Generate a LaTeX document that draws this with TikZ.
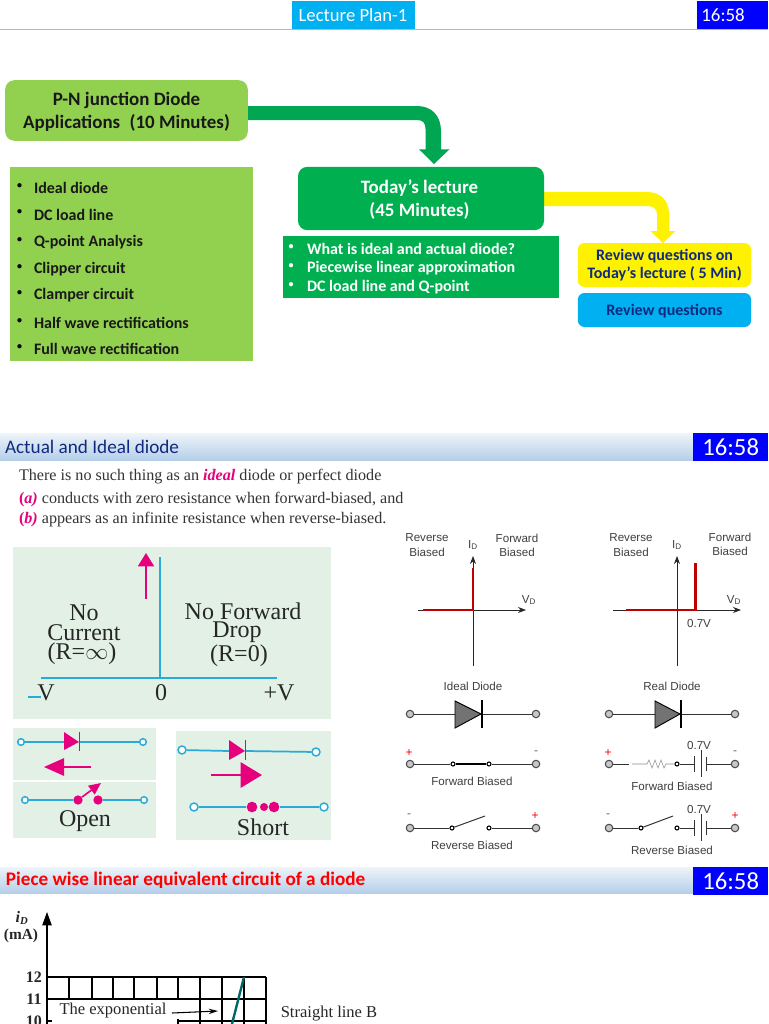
\documentclass[tikz,border=0pt]{standalone}
\usepackage{fontspec}
\setmainfont{Carlito}
\newfontfamily\serifx{Liberation Serif}
\newfontfamily\sansx{Liberation Sans}
\usetikzlibrary{arrows.meta}
\definecolor{lgreen}{HTML}{92D050}
\definecolor{dgreen}{HTML}{00B050}
\definecolor{arrgreen}{HTML}{00A651}
\definecolor{cyanb}{HTML}{00B0F0}
\definecolor{navyt}{HTML}{0F2A80}
\definecolor{pale}{HTML}{E2F0E6}
\definecolor{lineb}{HTML}{29ABD8}
\definecolor{mag}{HTML}{E6007E}
\definecolor{dred}{HTML}{C00000}
\definecolor{hdtop}{HTML}{EEF4FA}
\definecolor{hdbot}{HTML}{B5CFE9}
\definecolor{rule}{HTML}{9DBBE3}
\newcommand{\fs}[1]{\fontsize{#1}{#1}\selectfont}
\tikzset{
 x=0.75pt,y=-0.75pt,
 lab/.style={inner sep=0pt,outer sep=0pt},
 txt/.style={lab,text=#1,font=\bfseries\fs{12}},
 txt/.default=black,
 bulb/.style={lab,text=#1,font=\bfseries\fs{7.5}},
 caplab/.style={lab,font=\sansx\fs{8.7},text=black!75},
 bar/.style={lab,anchor=west},
 clock/.style={lab,fill=blue,text=white,font=\fs{18.5},minimum width=56pt,minimum height=21pt,anchor=north east},
 wire/.style={draw=black!80,line width=0.75pt},
 blw/.style={draw=lineb,line width=1.3pt},
 term/.style={circle,draw=black!70,fill=black!22,line width=0.8pt,minimum size=5.6pt,inner sep=0pt},
 sm/.style={circle,draw=black,fill=white,line width=0.8pt,minimum size=3pt,inner sep=0pt},
 bterm/.style={circle,draw=lineb,fill=white,line width=1.1pt,minimum size=5pt,inner sep=0pt},
 mdot/.style={circle,fill=mag,minimum size=#1,inner sep=0pt},
 marr/.style={draw=mag,line width=1.3pt,-{Triangle[length=10pt,width=12pt,fill=mag]}},
 redl/.style={draw=dred,line width=2.2pt},
 axisl/.style={draw=black!85,line width=0.6pt,-{Stealth[length=6pt,width=4.5pt]}},
 grid/.style={draw=black,line width=0.8pt},
 sign/.style={lab,font=\sansx\fs{9},text=red},
 gsign/.style={lab,font=\sansx\fs{9},text=black!60},
 ser/.style={lab,font=\serifx\fs{18},text=black!85},
 gtext/.style={lab,font=\serifx\fs{12.4},text=black!85},
 gnum/.style={lab,font=\serifx\bfseries\fs{12},text=black!85},
}
\newcommand{\hdbar}[2]{\fill[top color=hdtop,bottom color=hdbot] (0,#1) rectangle (768,#2);}
\begin{document}
\begin{tikzpicture}
\useasboundingbox (0,0) rectangle (768,1024);
\fill[white] (0,0) rectangle (768,1024);
%% --- Header
\draw[rule,line width=0.7pt] (0,29.5) -- (768,29.5);
\fill[cyanb] (292,1) rectangle (415,29);
\node[lab,text=white,font=\fs{14}] (plan) at (353,15.5) {Lecture Plan-1};
\node[clock,minimum width=53pt,font=\fs{14.2},text width=47pt,align=left] (clock1) at (768,1) {16:58};

%% --- Big arrows
\fill[arrgreen] (248,106) -- (417,106) .. controls (432,106) and (441,116) .. (441,131) -- (441,149.3)
 -- (449.5,149.3) -- (434,164) -- (419,149.3) -- (425.5,149.3) -- (425.5,129) .. controls (425.5,123) and (423,120) .. (417,120) -- (248,120) -- cycle;
\fill[yellow] (544,192) -- (647,192) .. controls (661,192) and (669,201) .. (669,214) -- (669,231)
 -- (675.5,231) -- (663,243) -- (650.5,231) -- (657,231) -- (657,214) .. controls (657,209) and (653,206) .. (647,206) -- (544,206) -- cycle;

%% --- P-N box
\node[lab,fill=lgreen,rounded corners=7pt,minimum width=182pt,minimum height=45.5pt] (pn) at (126.5,110.5) {};
\node[lab,align=center,font=\bfseries\fs{14.2},text=black!90] (pnt) at (126.5,111.5) {P-N junction Diode\\[3pt]Applications\enspace(10 Minutes)};

%% --- Topic list
\fill[lgreen] (10,167) rectangle (253,361);
\foreach \n/\y/\t in {a/188/Ideal diode,b/214.5/DC load line,c/242/Q-point Analysis,d/269/Clipper circuit,e/295/Clamper circuit,f/323/Half wave rectifications,g/349/Full wave rectification}{
  \node[bar,txt=black!90] (li\n) at (34,\y) {\t};
  \node[bulb=black] (bu\n) at (19.5,\y-2) {•};
}

%% --- Today's lecture
\node[lab,fill=dgreen,rounded corners=7pt,minimum width=184.5pt,minimum height=47.5pt] (today) at (421,198.5) {};
\node[lab,align=center,text=white,font=\bfseries\fs{14.2}] (todayt) at (419.5,200) {Today’s lecture\\[3pt](45 Minutes)};
\fill[dgreen] (283,236) rectangle (559,298);
\foreach \n/\y/\t in {a/249/What is ideal and actual diode?,b/268/Piecewise linear approximation,c/287/DC load line and Q-point}{
  \node[bar,txt=white] (to\n) at (307,\y) {\t};
  \node[bulb=white] (tb\n) at (291,\y-2) {•};
}

%% --- Review
\node[lab,fill=yellow,rounded corners=5pt,minimum width=130pt,minimum height=33pt] (rq) at (664.5,265) {};
\node[lab,align=center,text=navyt,font=\bfseries\fs{12}] (rqt) at (664.5,265.5) {Review questions on\\[1.5pt]Today’s lecture ( 5 Min)};
\node[lab,fill=cyanb,rounded corners=5pt,minimum width=130pt,minimum height=25.5pt] (rv) at (664.5,310) {};
\node[lab,text=navyt,font=\bfseries\fs{12}] (rvt) at (664.5,311) {Review questions};

%% --- Actual & ideal
\hdbar{433}{460}
\node[bar,text=navyt,font=\fs{14.4}] (h2) at (5,447) {Actual and Ideal diode};
\node[clock] (clock2) at (768,433) {16:58};
\node[lab,anchor=west,font=\serifx\fs{12.1},text=black!80] (tx1) at (19,477) {There is no such thing as an {\bfseries\itshape\color{mag}ideal} diode or perfect diode};
\node[lab,anchor=west,font=\serifx\fs{12.1},text=black!80] (tx2) at (19,500) {{\bfseries\color{mag}(\itshape a)} conducts with zero resistance when forward-biased, and};
\node[lab,anchor=west,font=\serifx\fs{12.1},text=black!80] (tx3) at (19,519.5) {{\bfseries\color{mag}(\itshape b)} appears as an infinite resistance when reverse-biased.};

%% pale panel
\fill[pale] (13,547) rectangle (331,719);
\coordinate (v0) at (160,678);
\coordinate (vt) at (160,557);
\coordinate (hl) at (41,678);
\coordinate (hr) at (277,678);
\draw[blw] (vt) -- (v0);
\draw[blw] (hl) -- (hr);
\coordinate (up0) at (146,599);
\coordinate (up1) at (146,553);
\draw[marr] (up0) -- (up1);
\node[ser] (nc1) at (84,613) {No};
\node[ser] (nc2) at (84,633) {Current};
\node[ser] (nc3) at (82,654) {(R=$\infty$)};
\node[ser] (nf1) at (243,611) {No Forward};
\node[ser] (nf2) at (237,632) {Drop};
\node[ser] (nf3) at (239,656) {(R=0)};
\node[ser] (mv) at (46,693) {V};
\draw[blw,line width=1.3pt] (28,697) -- (41,697);
\node[ser] (z) at (161,693) {0};
\node[ser] (pv) at (279,693) {+V};

%% Open panels
\fill[pale] (13,728) rectangle (156,779.5);
\fill[pale] (13,782) rectangle (156,838);
\node[bterm] (o1a) at (21,742) {};
\node[bterm] (o1b) at (143,742) {};
\draw[blw] (o1a) -- (64,742) (80,742) -- (o1b);
\fill[mag] (64,732) -- (79,742) -- (64,750) -- cycle;
\draw[mag,line width=1.3pt] (79.5,732) -- (79.5,751);
\coordinate (la0) at (91,767);
\coordinate (la1) at (44,767);
\draw[marr,-{Triangle[length=15pt,width=13pt,fill=mag]}] (la0) -- (la1);
\node[bterm] (o2a) at (25,800) {};
\node[bterm] (o2b) at (144,800) {};
\node[mdot=7pt] (o2c) at (78,800) {};
\node[mdot=7pt] (o2d) at (98,800) {};
\draw[blw] (o2a) -- (o2c);
\draw[blw] (o2d) -- (o2b);
\draw[draw=mag,line width=1.2pt,-{Triangle[length=9pt,width=8pt,fill=mag]}] (o2c) -- (101,783);
\node[ser] (opn) at (85,821) {Open};

%% Short panel
\fill[pale] (176,731) rectangle (331,840);
\node[bterm,minimum size=6pt] (s1a) at (182,750) {};
\node[bterm,minimum size=6pt] (s1b) at (316,752) {};
\draw[blw] (s1a) -- (229,751) (246,751) -- (s1b);
\fill[mag] (229,740) -- (245,751) -- (229,760) -- cycle;
\draw[mag,line width=1.3pt] (245.5,740) -- (245.5,760);
\coordinate (ra0) at (211,775);
\coordinate (ra1) at (262,775);
\draw[marr,-{Triangle[length=16pt,width=19pt,fill=mag]}] (ra0) -- (ra1);
\node[bterm,minimum size=6pt] (s2a) at (194,807) {};
\node[bterm,minimum size=6pt] (s2b) at (324,807) {};
\node[mdot=8pt] (s2c) at (252,807) {};
\node[mdot=6pt] (s2d) at (264,807) {};
\node[mdot=8pt] (s2e) at (274,807) {};
\draw[blw] (s2a) -- (s2c);
\draw[blw] (s2e) -- (s2b);
\node[ser] (sht) at (263,827) {Short};

%% Ideal graph
\node[caplab,align=center] (rb1) at (427,545) {Reverse\\[2pt]Biased};
\node[caplab,align=center] (fb1) at (517,545) {Forward\\[2pt]Biased};
\node[caplab] (id1) at (473,545) {I\textsubscript{D}};
\node[caplab] (vd1) at (529,600) {V\textsubscript{D}};
\coordinate (o1) at (473,610);
\coordinate (a1l) at (418,610);
\coordinate (a1r) at (526,610);
\coordinate (a1t) at (473,556);
\coordinate (a1b) at (473,666);
\draw[axisl] (a1l) -- (a1r);
\draw[axisl] (a1b) -- (a1t);
\draw[redl] (423,610) -- (o1) -- (473,568);
\node[caplab] (idd) at (473,686) {Ideal Diode};
%% Real graph
\node[caplab,align=center] (rb2) at (631,545) {Reverse\\[2pt]Biased};
\node[caplab,align=center] (fb2) at (730,544.5) {Forward\\[2pt]Biased};
\node[caplab] (id2) at (677,545) {I\textsubscript{D}};
\node[caplab] (vd2) at (734,600) {V\textsubscript{D}};
\coordinate (o2) at (677,610);
\coordinate (a2l) at (613,610);
\coordinate (a2r) at (741,610);
\coordinate (a2t) at (677,556);
\coordinate (a2b) at (677,666);
\draw[axisl] (a2l) -- (a2r);
\draw[axisl] (a2b) -- (a2t);
\draw[redl] (626,610) -- (695.5,610) -- (695.5,563);
\node[caplab] (v07a) at (699,623) {0.7V};
\node[caplab] (rld) at (672,686) {Real Diode};

%% diode symbols
\node[term] (d1a) at (410,714) {};
\node[term] (d1b) at (536,714) {};
\draw[wire] (d1a) -- (455,714) (482,714) -- (d1b);
\filldraw[fill=black!55,draw=black,line width=0.7pt] (455,701) -- (481,714) -- (455,728) -- cycle;
\draw[draw=black,line width=0.9pt] (482,700) -- (482,728);
\node[term] (d2a) at (609,714) {};
\node[term] (d2b) at (735,714) {};
\draw[wire] (d2a) -- (655,714) (681,714) -- (d2b);
\filldraw[fill=black!55,draw=black,line width=0.7pt] (655,701) -- (680,714) -- (655,728) -- cycle;
\draw[draw=black,line width=0.9pt] (681,700) -- (681,728);

%% Forward ideal
\node[sign] (p1) at (409,753) {+};
\node[gsign] (m1) at (536,753) {-};
\node[term] (f1a) at (410,764) {};
\node[term] (f1b) at (536,764) {};
\node[sm] (f1c) at (453,764) {};
\node[sm] (f1d) at (489,764) {};
\draw[wire] (f1a) -- (f1c);
\draw[wire,line width=1.1pt,draw=black] (f1c) -- (f1d);
\draw[wire] (f1d) -- (f1b);
\node[caplab] (fw1) at (472,781.5) {Forward Biased};

%% Forward real
\node[sign] (p2) at (608,753) {+};
\node[gsign] (m2) at (735,753) {-};
\node[term] (f2a) at (609,764) {};
\node[term] (f2b) at (735,764) {};
\node[sm] (f2c) at (677,764) {};
\draw[wire] (f2a) -- (629,764);
\draw[black!45,line width=0.4pt] (632,764) -- (647,764) -- (649,760) -- (652,768) -- (655,760) -- (658,768) -- (661,760) -- (664,768) -- (666,764) -- (f2c);
\draw[wire] (f2c) -- (694,764);
\draw[wire] (694,756) -- (694,772) (701,750) -- (701,777) (706,757) -- (706,771) (706,764) -- (f2b);
\node[caplab] (v07b) at (699,745) {0.7V};
\node[caplab] (fw2) at (672,786) {Forward Biased};

%% Reverse ideal
\node[gsign] (m3) at (409,816) {-};
\node[sign] (p3) at (535,816) {+};
\node[term] (r1a) at (410,828) {};
\node[term] (r1b) at (536,828) {};
\node[sm] (r1c) at (452,828) {};
\node[sm] (r1d) at (489,828) {};
\draw[wire] (r1a) -- (r1c);
\draw[wire] (r1c) -- (485,816);
\draw[wire] (r1d) -- (r1b);
\node[caplab] (rv1) at (472,845) {Reverse Biased};

%% Reverse real
\node[gsign] (m4) at (608,816) {-};
\node[sign] (p4) at (735,816) {+};
\node[term] (r2a) at (609,828) {};
\node[term] (r2b) at (735,828) {};
\node[sm] (r2c) at (641,828) {};
\node[sm] (r2d) at (677,828) {};
\draw[wire] (r2a) -- (r2c);
\draw[wire] (r2c) -- (673,816);
\draw[wire] (r2d) -- (694,828);
\draw[wire] (694,820) -- (694,836) (701,814) -- (701,841) (706,821) -- (706,835) (706,828) -- (r2b);
\node[caplab] (v07c) at (699,809) {0.7V};
\node[caplab] (rv2) at (672,850) {Reverse Biased};

%% --- Piecewise
\hdbar{867}{893}
\node[bar,text=red,font=\bfseries\fs{14.4}] (h3) at (6,880) {Piece wise linear equivalent circuit of a diode};
\node[clock] (clock3) at (768,867) {16:58};

%% graph
\begin{scope}
\clip (0,895) rectangle (768,1024);
\coordinate (gt) at (47,912);
\coordinate (gb) at (47,1024);
\draw[draw=black,line width=0.8pt,-{Triangle[length=10pt,width=7pt]}] (gb) -- (gt);
\draw[grid] (47,977) -- (266,977) (47,999) -- (266,999) (47,1021) -- (52,1021) (178,1021) -- (266,1021);
\foreach \x in {69,92,113,134,157}{\draw[grid] (\x,977) -- (\x,999);}
\draw[grid] (178,977) -- (178,999) (178,1019) -- (178,1024);
\draw[grid] (200,977) -- (200,1024) (244,977) -- (244,1024) (266,977) -- (266,1024);
\draw[draw=black,line width=2pt] (222,977) -- (222,1024);
\draw[draw=teal!80!black,line width=1.8pt] (244,977) -- (232,1024);
\node[gtext] (ex) at (113,1011) {The exponential};
\coordinate (exa) at (172,1013);
\coordinate (exb) at (218,1011);
\draw[draw=black,line width=0.8pt,-{Stealth[length=7pt,width=4pt]}] (exa) -- (exb);
\node[gtext] (sl) at (329,1014) {Straight line B};
\node[gnum] (n12) at (34,977) {12};
\node[gnum] (n11) at (34,999) {11};
\node[gnum] (n10) at (34,1021) {10};
\node[gnum,font=\serifx\bfseries\itshape\fs{12}] (iD) at (22,918) {i\textsubscript{D}};
\node[gnum,font=\serifx\bfseries\fs{11.5}] (mA) at (21,936) {(mA)};
\end{scope}
\end{tikzpicture}
\end{document}
